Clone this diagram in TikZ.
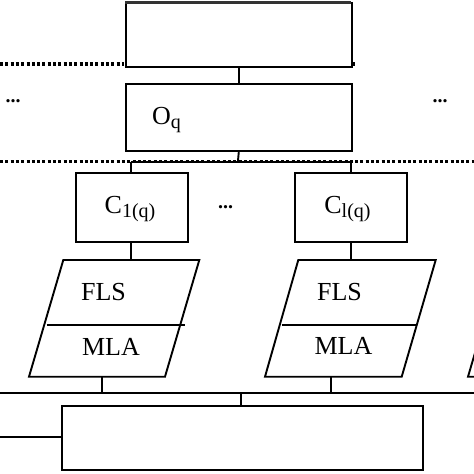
\documentclass[tikz,border=0pt]{standalone}
\usepackage{fontspec}
\setmainfont{Liberation Serif}
\newcommand{\subx}[1]{\raisebox{-4pt}{\fontsize{20}{20}\selectfont #1}}
\begin{document}
\begin{tikzpicture}[x=1pt,y=-1pt,
  box/.style={draw,line width=1.9pt,fill=white,inner sep=0pt,anchor=north west},
  conn/.style={line width=1.9pt},
  dots/.style={line width=3.2pt,dash pattern=on 3pt off 2.3pt},
  big/.style={font=\fontsize{26}{26}\selectfont,inner sep=0pt},
  ell/.style={font=\fontsize{20}{20}\selectfont\bfseries,inner sep=0pt}]
\useasboundingbox (0,0) rectangle (474,474);
\clip (0,0) rectangle (474,474);
% dotted separators
\draw[dots] (0,64) -- (124,64);
\draw[dots] (352,64) -- (357,64);
\draw[dots] (0,161.7) -- (474,161.7);
% boxes
\node[box,minimum width=225.7pt,minimum height=63.7pt] (top) at (125,2) {};
\draw[line width=3pt,black!80] (125,2) -- (350.7,2);
\node[box,minimum width=225.7pt,minimum height=66.7pt] (oq) at (125,83.3) {};
\node[big,anchor=base west] (oqt) at (152,124) {O\subx{q}};
\node[ell] (dl) at (13,101) {...};
\node[ell] (dr) at (440,101) {...};
% connectors top
\draw[conn] (top.south) -- (oq.north);
\coordinate (bus1) at (237.9,161.7);
\draw[conn] (oq.south) -- (bus1);
\node[box,minimum width=111.7pt,minimum height=69.3pt] (c1) at (75,171.7) {};
\node[box,minimum width=111.7pt,minimum height=69.3pt] (cl) at (294.3,171.7) {};
\coordinate (b1) at (131,161.7);
\coordinate (b2) at (350.7,161.7);
\draw[conn] (b1) -- (b2);
\draw[conn] (b1) -- (b1 |- c1.north);
\draw[conn] (b2) -- (b2 |- cl.north);
\node[big,anchor=base] (c1t) at (130,213.3) {C\subx{1(q)}};
\node[big,anchor=base] (clt) at (347.5,213.3) {C\subx{l(q)}};
\node[ell] (dm) at (225.5,207) {...};
% parallelograms
\coordinate (p1a) at (63.3,260); \coordinate (p1b) at (199.3,260);
\coordinate (p1c) at (165,376.7); \coordinate (p1d) at (29,376.7);
\draw[conn,line join=miter] (p1a) -- (p1b) -- (p1c) -- (p1d) -- cycle;
\draw[conn] (46.7,325) -- (185,325);
\coordinate (p2a) at (298.3,260); \coordinate (p2b) at (435.7,260);
\coordinate (p2c) at (401.7,376.7); \coordinate (p2d) at (265,376.7);
\draw[conn,line join=miter] (p2a) -- (p2b) -- (p2c) -- (p2d) -- cycle;
\draw[conn] (281.7,325) -- (416,325);
\coordinate (p3d) at (468,376.7); \coordinate (p3a) at (502.3,260);
\draw[conn,line join=miter] (p3a) -- (p3d) -- (520,376.7);
\draw[conn] (131,241) -- (131,260);
\draw[conn] (350.7,241) -- (350.7,260);
\node[big,anchor=base] (fls1) at (103.5,300.7) {FLS};
\node[big,anchor=base] (mla1) at (111,355) {MLA};
\node[big,anchor=base] (fls2) at (339.5,300.7) {FLS};
\node[big,anchor=base] (mla2) at (343.5,354) {MLA};
% lower bus
\coordinate (lb0) at (0,392.7);
\coordinate (lb1) at (474,392.7);
\draw[conn] (lb0) -- (lb1);
\draw[conn] (101.7,376.7) -- (101.7,392.7);
\draw[conn] (331,376.7) -- (331,392.7);
\node[box,minimum width=360.7pt,minimum height=64.3pt] (bot) at (61,405) {};
\draw[conn] (241,392.7) -- (241,405);
\coordinate (lin) at (0,437.3);
\draw[conn] (lin) -- (lin -| bot.west);
\end{tikzpicture}
\end{document}
